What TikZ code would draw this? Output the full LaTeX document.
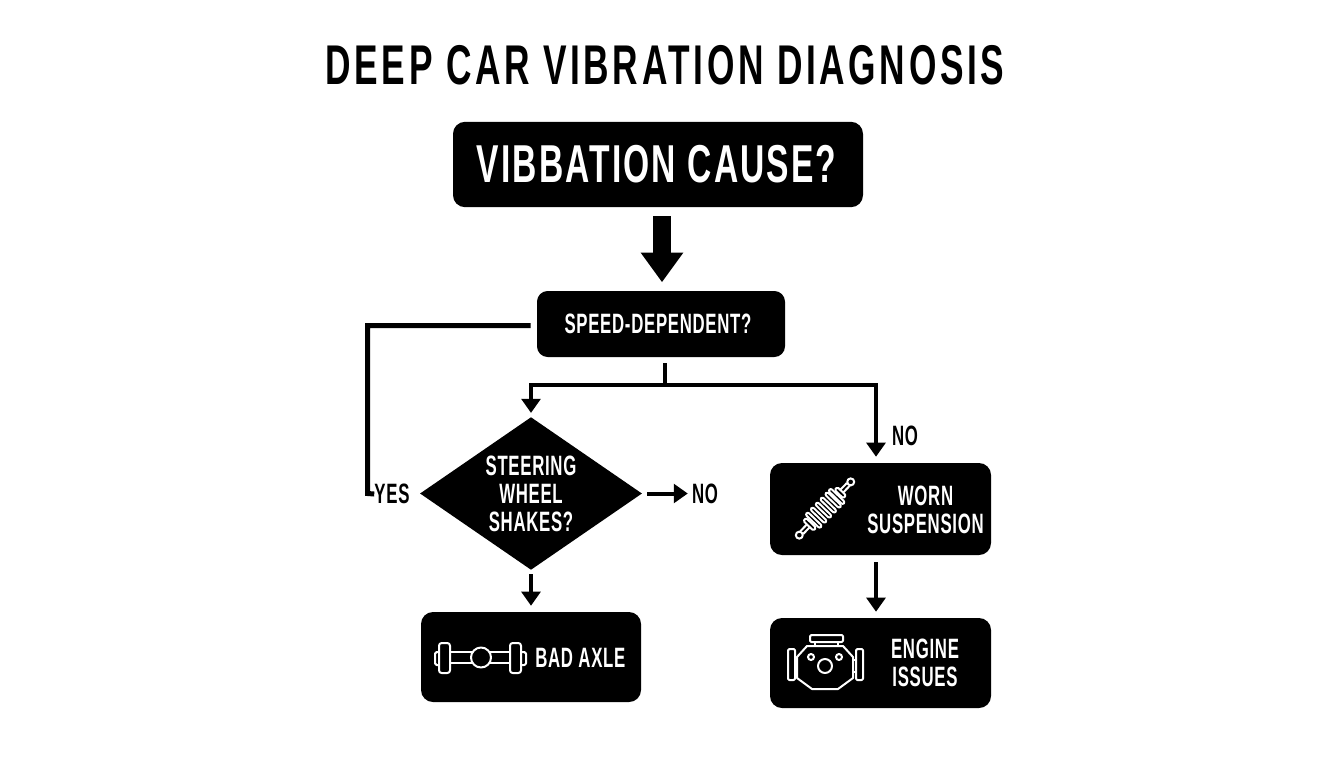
\documentclass[tikz,border=0pt]{standalone}
\usepackage{fontspec}
\setmainfont{Liberation Sans}[BoldFont={Liberation Sans Bold},FakeStretch=0.6,LetterSpace=2.5]
\newfontfamily\titlefont{Liberation Sans Bold}[FakeStretch=0.63,LetterSpace=6.5]
\newfontfamily\topfont{Liberation Sans Bold}[FakeStretch=0.63,LetterSpace=4]
\usetikzlibrary{arrows.meta,shapes.geometric,calc}
\tikzset{
  every node/.style={font=\bfseries},
  box/.style={fill=black,rounded corners=9pt,inner sep=0pt,text=white,align=center},
  lab/.style={text=white,align=center,inner sep=0pt,font=\fontsize{21}{21}\bfseries\selectfont},
  outlab/.style={text=black,inner sep=0pt,font=\fontsize{21}{21}\bfseries\selectfont},
  conn/.style={draw=black,line width=3pt,-{Triangle[length=10.5pt,width=14pt]}},
  line/.style={draw=black,line width=3pt},
  icon/.style={draw=white,line width=1.5pt,line join=round}
}
\begin{document}
\begin{tikzpicture}[x=0.75pt,y=-0.75pt]
\useasboundingbox (0,0) rectangle (1344,768);
\node[inner sep=0pt,font=\fontsize{42}{42}\titlefont\selectfont] (title) at (665,65) {DEEP CAR VIBRATION DIAGNOSIS};
\node[box,minimum width=307.5pt,minimum height=64pt,font=\fontsize{40}{40}\topfont\selectfont] (top) at (658,164.5) {VIBBATION CAUSE?\hspace{2pt}};
\node[box,minimum width=186pt,minimum height=49.5pt,rounded corners=8pt,font=\fontsize{21}{21}\bfseries\selectfont] (speed) at (661,324) {SPEED-DEPENDENT?\hspace{4.5pt}};
\node[diamond,aspect=1.45,fill=black,inner sep=0pt,text=white,align=center,minimum height=114.5pt,minimum width=166.5pt,font=\fontsize{21}{21}\bfseries\selectfont] (steer) at (531,493.5) {STEERING\\WHEEL\\SHAKES?};
\node[box,minimum width=165pt,minimum height=67.5pt] (axle) at (531,657) {};
\node[box,minimum width=165.75pt,minimum height=69pt] (worn) at (880.5,509) {};
\node[box,minimum width=165.75pt,minimum height=67.5pt] (engine) at (880.5,663) {};
\node[lab,anchor=west] (axlet) at (535,657.5) {BAD AXLE};
\node[lab] (wornt) at (925.5,509.5) {WORN\\SUSPENSION};
\node[lab] (enginet) at (925,663) {ENGINE\\ISSUES};
\node[outlab] (yes) at (392,494) {YES};
\node[outlab] (no1) at (705,493.5) {NO};
\node[outlab] (no2) at (905,436) {NO};
\coordinate (trunk) at (665,385);
\coordinate (elbowL) at (367.5,325.5);
\coordinate (elbowB) at (367.5,493.5);
% thick arrow
\coordinate (ta) at (662,216);
\coordinate (tb) at (662,282);
\draw[draw=black,line width=13.5pt,-{Triangle[length=22pt,width=32pt,line width=0pt]}] (ta) -- (tb);
% yes branch
\draw[line,line width=3.75pt] (speed.west |- elbowL) ++(-6,0) -- (elbowL) -- (elbowB) -- (yes.west);
% split
\draw[line] ($(speed.south -| trunk)+(0,6)$) -- (trunk);
\draw[conn] (trunk) -| ($(steer.north)+(0,-4)$);
\draw[conn] (trunk) -| ($(worn.north)+(-4.5,-6)$);
\draw[conn] ($(steer.east)+(5,0)$) -- ($(no1.west)+(-4,0)$);
\draw[conn] ($(steer.south)+(0,4)$) -- ($(axle.north)+(0,-6)$);
\draw[conn] ($(worn.south)+(-4.5,7)$) -- ($(engine.north)+(-4.5,-6)$);
% axle icon
\begin{scope}[icon]
\draw[rounded corners=1.2pt] (439,652) -- (435,652) -- (435,665) -- (439,665);
\draw[rounded corners=2pt] (439,643) rectangle (450,673);
\draw (450,652) -- (472,652) (450,663) -- (472,663);
\draw (481,657.5) circle[radius=10];
\draw (490,652) -- (510,652) (490,663) -- (510,663);
\draw[rounded corners=2pt] (510,643) rectangle (521,673);
\draw[rounded corners=1.2pt] (521,652) -- (526,652) -- (526,665) -- (521,665);
\end{scope}
% suspension icon
\begin{scope}[icon,shift={(825,508.5)},rotate=46]
\draw (-37,0) circle[radius=3.5];
\draw (37,0) circle[radius=3.5];
\draw (-33.5,-2) -- (-24,-2) (-33.5,2) -- (-24,2);
\draw (33.5,-2) -- (24,-2) (33.5,2) -- (24,2);
\draw[rounded corners=1pt] (-24,-7) rectangle (-20,7);
\draw[rounded corners=1pt] (24,-6) rectangle (20,6);
\foreach \k in {-18,-11,-4,3,10,15}{
  \draw[rounded corners=1.5pt] (\k,-10) -- (\k+3.5,-10) -- (\k+3.5,10) -- (\k,10) -- cycle;
}
\end{scope}
% engine icon
\begin{scope}[icon]
\draw[rounded corners=1pt] (810,635) rectangle (843,642);
\draw (815,642) -- (815,646) (838,642) -- (838,646);
\draw (807,646) -- (843,646) -- (853,657) -- (853,678) -- (838,689) -- (812,689) -- (797,678) -- (797,657) -- cycle;
\draw (825,666) circle[radius=7];
\draw (811,657) circle[radius=3];
\draw (839,657) circle[radius=3];
\draw[rounded corners=1pt] (788,649) rectangle (795,680);
\draw[rounded corners=1pt] (856,649) rectangle (863,680);
\draw (795,660) -- (797,660) (795,672) -- (797,672) (853,660) -- (856,660) (853,672) -- (856,672);
\end{scope}
\end{tikzpicture}
\end{document}
